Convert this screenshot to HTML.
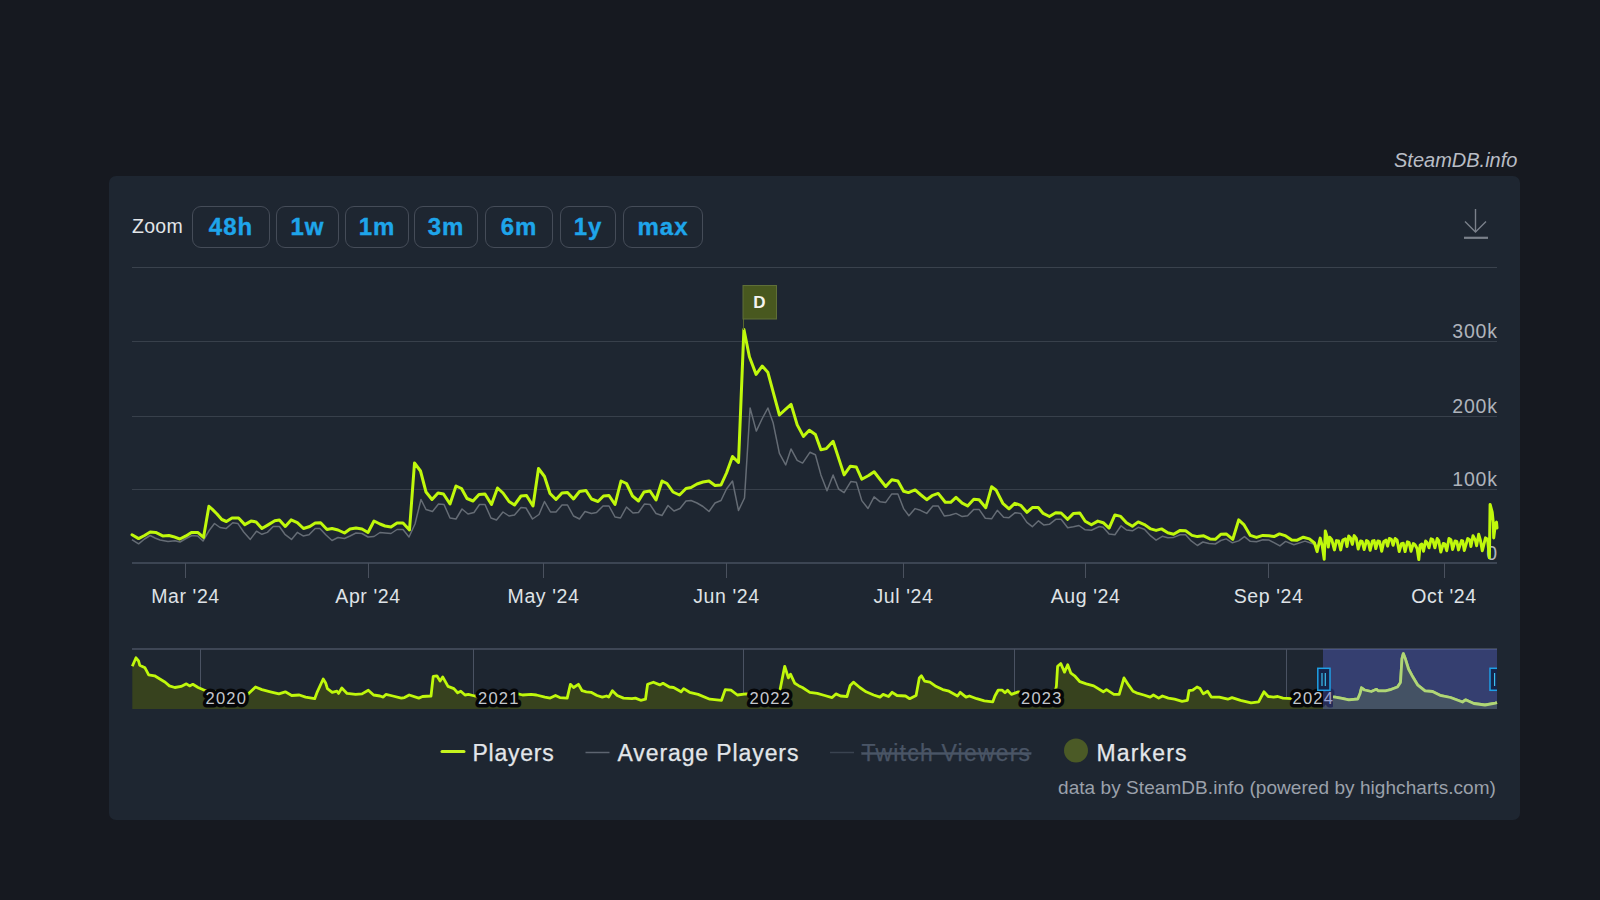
<!DOCTYPE html>
<html><head><meta charset="utf-8">
<style>
*{margin:0;padding:0;box-sizing:border-box}
html,body{width:1600px;height:900px;overflow:hidden;background:#161920;font-family:"Liberation Sans",sans-serif}
.brand{position:absolute;left:1394px;top:149px;font-size:20px;font-style:italic;color:#b9bdc5;white-space:nowrap}
.card{position:absolute;left:109px;top:175.5px;width:1411px;height:644.5px;background:#1e2631;border-radius:7px}
.zl{position:absolute;left:132px;top:214.5px;font-size:19.5px;letter-spacing:0.3px;color:#e2e5e8;white-space:nowrap}
.btn{position:absolute;top:206px;height:42px;border:1.5px solid #454c58;border-radius:9px;color:#1ea5ea;font-weight:bold;font-size:24px;text-align:center;line-height:39px;letter-spacing:1px;-webkit-text-stroke:0.35px #1ea5ea}
svg{position:absolute;left:0;top:0}
.t{font-family:"Liberation Sans",sans-serif}
</style></head><body>
<div class="brand">SteamDB.info</div>
<div class="card"></div>
<div class="zl">Zoom</div>
<div class="btn" style="left:192px;width:78px">48h</div>
<div class="btn" style="left:276px;width:63px">1w</div>
<div class="btn" style="left:345px;width:64px">1m</div>
<div class="btn" style="left:414px;width:64px">3m</div>
<div class="btn" style="left:485px;width:68px">6m</div>
<div class="btn" style="left:560px;width:56px">1y</div>
<div class="btn" style="left:623px;width:80px">max</div>
<svg width="1600" height="900" viewBox="0 0 1600 900">
 <defs><clipPath id="navclip"><rect x="1300" y="640" width="197" height="80"/></clipPath><clipPath id="maskclip"><rect x="1333" y="649" width="164" height="60"/></clipPath></defs>
 <!-- download icon -->
 <g stroke="#7a808a" stroke-width="1.4" fill="none">
  <line x1="1475.5" y1="209" x2="1475.5" y2="232"/>
  <polyline points="1465,221.5 1475.5,232 1486,221.5"/>
 </g>
 <line x1="1464" y1="237.8" x2="1488" y2="237.8" stroke="#7a808a" stroke-width="2.2"/>
 <!-- top separator -->
 <line x1="132" y1="267.5" x2="1497" y2="267.5" stroke="#3a424d" stroke-width="1.2"/>
 <!-- grid -->
 <g stroke="#38404b" stroke-width="1">
  <line x1="132" y1="341.5" x2="1497" y2="341.5"/>
  <line x1="132" y1="416.5" x2="1497" y2="416.5"/>
  <line x1="132" y1="489.5" x2="1497" y2="489.5"/>
 </g>
 <line x1="132" y1="563" x2="1497" y2="563" stroke="#3c4553" stroke-width="2"/>
 <g stroke="#4a515e" stroke-width="1">
  <line x1="185.5" y1="563" x2="185.5" y2="578"/>
  <line x1="368.5" y1="563" x2="368.5" y2="578"/>
  <line x1="543.5" y1="563" x2="543.5" y2="578"/>
  <line x1="726.5" y1="563" x2="726.5" y2="578"/>
  <line x1="903.5" y1="563" x2="903.5" y2="578"/>
  <line x1="1085.5" y1="563" x2="1085.5" y2="578"/>
  <line x1="1268.5" y1="563" x2="1268.5" y2="578"/>
  <line x1="1444.5" y1="563" x2="1444.5" y2="578"/>
 </g>
 <!-- y labels -->
 <g class="t" font-size="19.5" fill="#aeb3bb" text-anchor="end" letter-spacing="0.8">
  <text x="1497.8" y="337.7">300k</text>
  <text x="1497.8" y="412.7">200k</text>
  <text x="1497.8" y="485.7">100k</text>
  <text x="1497.8" y="559.5">0</text>
 </g>
 <!-- x labels -->
 <g class="t" font-size="19.5" fill="#dfe2e6" text-anchor="middle" letter-spacing="0.6">
  <text x="185.5" y="603">Mar '24</text>
  <text x="368" y="603">Apr '24</text>
  <text x="543.5" y="603">May '24</text>
  <text x="726.5" y="603">Jun '24</text>
  <text x="903.5" y="603">Jul '24</text>
  <text x="1085.5" y="603">Aug '24</text>
  <text x="1268.5" y="603">Sep '24</text>
  <text x="1444" y="603">Oct '24</text>
 </g>
 <!-- lines -->
 <polyline points="131.9,539.6 138.6,543.8 144.5,539 150.2,535.5 155,538 160,540 168,541.5 175,540.7 180,542 186,538.5 192,535.5 197.7,536 203,541 209.5,530 214.5,523.5 220,527.5 226,528.6 232.8,522.7 237.8,523.4 243.7,532 250.3,539.4 256.5,531.2 261.9,534.3 267.4,532.4 273.2,526.5 279.4,526.5 284.9,534.3 291.5,539.4 297.3,532.4 303.1,535.9 309,534.7 315.2,528.5 319.9,528.5 326,535 332,540.5 338,537.5 344.5,538.5 350,536 356,533 362,533.5 368,537 374,536.5 380,532.5 385,533 391,533.5 397,529.5 403,529.5 409,537 415,524 421,499.5 426,509.5 432.5,511.5 438.5,504 444,504.5 450,518 456,519 462,509 468,514 474,512.5 479.5,504.5 485,504.5 491,518 496.5,520 503,512 509,516 514.5,515 521,507.5 526,508 532.5,519 539,514.5 544.5,501.5 550.5,512 556,512 562,505 567.5,505 573.5,516 579.5,519 585,511.5 591.5,513.5 596.5,512.5 603,506 609,506 615,517 620.5,518 626.5,507 633,513 638.5,512.5 644.5,504 650,504.5 656,513.5 662,515.5 668,505.5 674,511 680,508.5 686,501 691,500.5 697,503 703,506.5 709,511.5 715,503 721,500.5 726.5,489 732.5,481 738.5,510.5 744.5,498 750.1,408 756.3,431.1 762,419 767.9,408 773.2,423.1 779.4,453.3 785.7,464.9 791,448.9 797.2,460.4 802.6,463.1 809.9,452.3 815.4,454.7 820.9,474.9 827,490.8 833.1,474.9 838.6,489 844.1,492.6 850.8,481.6 856.3,482.2 861.8,500.6 868,508.5 874.1,496.9 880.2,501.8 885.7,502.4 891.8,493.9 897.9,493.9 903.6,508.6 908.9,515.7 915.1,508.6 920.4,510.3 926.7,513.4 932.9,505.9 938.2,505.9 944.4,516.1 949.8,515.2 956,513.4 962.2,516.6 967.6,515.7 973.8,509.4 979.1,509.4 985.3,518.3 991.6,518.8 997.3,510.3 1003.6,517.3 1009,517.7 1015.2,512.7 1020.7,513.4 1026.9,522.4 1032.3,526.7 1038.5,520.8 1044,525.1 1049.4,524.3 1055.7,519.3 1061.1,519.3 1067.7,527.8 1073.5,526.7 1079,525.5 1085.2,529.8 1091.4,530.2 1099.3,526.5 1103.2,527.3 1109.1,533.9 1114.9,534.7 1121.1,525.8 1126.5,530 1132.4,530.8 1138.2,527.3 1144.4,529.3 1150.7,535.9 1156.1,540.2 1162.3,536.3 1167.8,537.8 1173.6,537.4 1180.2,534.7 1185.6,534.7 1191.2,540.9 1197.4,545.5 1202.9,542 1209.1,543.6 1215.3,544 1220.8,540.5 1226.2,538.9 1232.4,542.8 1238.7,540.9 1244.5,536.6 1250.3,541.3 1256.5,541.7 1262.8,539.7 1269,540.1 1274.4,542.8 1279.9,545.9 1285.6,541.4 1293.9,544.7 1305,541.1 1312,543.5 1318,546" fill="none" stroke="#656c75" stroke-width="1.5" stroke-linejoin="round"/>
 <polyline points="132,534.7 138.6,538.6 144.5,535.5 150.2,532 155.7,532.4 162.7,535.9 168.9,535.5 173.5,536.7 179.8,539 186,535.9 191.4,532.4 197.7,532.4 203.5,537.4 208.9,506.3 212.4,509.4 217,514 221.8,519.5 226.4,521.5 232,518 238.6,518 244.8,524.6 251,521.1 256.1,521.9 261.9,528.5 268.5,524.6 274.8,520.7 279.4,519.9 285.3,526.5 291.1,519.9 297.3,522.7 303.5,528.5 309.8,526.5 315.2,523 320.6,522.7 327,529.5 332,528.5 338,530 344.5,533 350,529 356,528 362,529 368,532.5 374,521 380,524 385,526 391,527 397,523 403,523 409.5,530 414.5,463 420.5,471 426,492 432,499.5 438,493 443.5,494 450,504 456,486 461.5,488.5 467,498.5 473,501 479,494.5 485,494 491.5,504.5 497.5,488 503,493 509,501.5 514.5,505 521,496 526.5,495.5 533,506 538.5,468.5 544.5,476.5 550,493.5 556,499.5 562,493 567.5,492.5 573.5,499 579.5,491.5 586,490.5 591.5,499 598,501.5 603.5,496 609,495.5 615,504.5 621,481 626.5,483.5 632.5,496 638.5,501 644,492 650,491 656,500 662,481 667,483.5 673,492 679.5,495 686,488.5 691,487.5 697,484 703,482 709,481 715,485.5 721,485 726.5,473 732.5,456.5 738.5,462.5 743.9,329.4 749.4,356.7 756.1,374.4 762.2,366.1 767.8,372.2 773.6,393.6 779.4,415 785.2,409.7 791.1,404.4 797.2,424.9 803.4,436.4 809.3,430.3 815.4,434.6 820.9,449.8 826.4,448.6 833.1,441.3 838.6,458.1 844.1,474.9 850.2,466.3 856.3,467 861.8,479.2 868.6,475.5 874.1,471.8 879.9,479.2 885.7,486.5 891.8,479.8 897.9,481 903.6,491.2 908.4,492.6 915.1,489.9 921,495 926.7,499.7 932,495.7 938.2,493.4 945.3,502.3 950.7,502.3 956,497.4 962.2,503.2 967.6,505.9 973.8,499.2 979.1,499.7 985.8,507.7 991.6,486.8 996,489.9 1002.8,503.3 1009,508.8 1014.8,503.3 1020.7,505.3 1026.9,512.3 1032.3,507.6 1038.2,507.6 1043.2,513.4 1049.4,516.5 1055.7,512.7 1061.1,513 1067.7,519.3 1073.5,513.4 1079.8,513 1085.2,521.2 1091.4,524.7 1097.8,521.1 1103.2,522.7 1109.1,528.1 1114.9,514.9 1120.7,516.4 1126.5,522.7 1132.4,526.2 1138.2,521.9 1144.4,524.6 1150.7,528.9 1156.1,530.4 1161.5,528.9 1167.8,532.8 1173.6,534.3 1180.2,530.4 1185.6,530.8 1192,535.4 1197.4,536.6 1203.7,535.8 1209.9,538.9 1215.3,539.3 1220.8,534.3 1226.2,533.9 1232.8,539.3 1238.7,519.9 1244.1,524.9 1250.3,535.4 1256.5,537.4 1262.8,535.4 1269,535.8 1274,536.6 1279.5,533.9 1285,535.6 1291.7,540 1296.7,540.3 1303.3,537.2 1309.4,538.9 1314.5,543 1317.1,551.6 1320.2,538.1 1322.3,546.1 1324.2,559.2 1325.3,530.9 1326.8,536 1328.3,547 1329.7,537.2 1331.8,539.8 1334.4,549.9 1336.5,540.6 1338.6,541 1340.7,549.9 1342.8,540.2 1345.4,538.9 1347,546.5 1348.7,536 1350.4,537.7 1352.3,544.4 1354.2,535.6 1356.3,538.5 1358.2,549.1 1360.6,541 1362.2,541.5 1364.1,549.5 1366.5,540.6 1368.2,541.5 1370.1,550.3 1372.4,541 1374.1,540.6 1375.8,548.6 1377.9,541 1379.6,541.5 1381.7,551.2 1383.8,541.5 1385.9,540.2 1387.6,546.1 1389.3,538.5 1391.4,539.4 1393.1,545.3 1395.2,538.5 1397.1,540.2 1399.2,551.6 1401.5,543.6 1403.2,543.2 1405.1,551.6 1407.4,541.9 1409.1,542.7 1411,551.2 1413.3,543.6 1415,544.8 1417.1,548.6 1418.8,559.6 1420.1,545.3 1421.8,544 1423.5,551.2 1425.6,541 1427,542.5 1429,547.8 1431.1,538.9 1432.8,539.7 1434.9,547.8 1437.2,538.5 1438.7,540.6 1440.8,552 1443.3,543.5 1444.8,544 1446.7,550.7 1449,538.5 1450.9,539.7 1452.6,549.4 1455.1,541 1456.8,541.4 1458.5,549.9 1461.5,540.6 1462.7,541 1464.3,550.4 1467.7,538.6 1469.8,540 1470.9,546.4 1473,535.7 1475.5,540.7 1476.6,545.7 1478.7,534.3 1480.5,540.7 1482.3,550.7 1485.5,537.9 1487.6,539.3 1489.4,557.8 1490.1,504.4 1492.2,512.2 1493.3,522.9 1493.7,537.9 1495.5,523.6 1496.5,522.2 1497,527.9" fill="none" stroke="#c0f80c" stroke-width="3" stroke-linejoin="round" stroke-linecap="round"/>
 <!-- marker D -->
 <line x1="743.5" y1="318" x2="743.5" y2="330" stroke="#58662e" stroke-width="1"/>
 <rect x="743" y="285.5" width="33.5" height="33.5" fill="#48581f" stroke="#5f6f38" stroke-width="1"/>
 <text class="t" x="759.3" y="308.2" font-size="17" font-weight="bold" fill="#f4f4f0" text-anchor="middle">D</text>
 <!-- navigator -->
 <g stroke="#4a5262" stroke-width="1">
  <line x1="200.5" y1="649" x2="200.5" y2="709"/>
  <line x1="473.5" y1="649" x2="473.5" y2="709"/>
  <line x1="743.5" y1="649" x2="743.5" y2="709"/>
  <line x1="1014.5" y1="649" x2="1014.5" y2="709"/>
  <line x1="1286.5" y1="649" x2="1286.5" y2="709"/>
 </g>
 <polygon points="132.3,666.3 136,657.8 138.6,661 139.7,665.2 145,667.8 148.7,674.8 154.6,675.8 159.9,679 165.2,682.2 169.4,685.9 174.8,687.5 181.1,686.4 186.4,683.8 189.6,685.9 192.8,684.3 198.1,687.5 205.6,690.7 226,692.5 248.1,693.9 255.5,687 261.9,689.6 270.4,691.8 278.9,693.9 285.3,691.8 291.7,695.5 299.3,695 305.6,697.1 314.7,698.7 317.3,691.8 323.2,679 325.8,683.3 327.4,688.6 332.2,692.3 337,691.2 338.6,693.4 341.8,688 347.1,693.4 355.6,694.4 362,693.9 368.3,690.2 373.6,695 380,696 383.2,697.1 385.9,694.4 392.8,696 401.3,698.1 404.5,697.6 409.2,695 418.8,698.1 422.5,696.5 431,696 433.2,676.3 436.9,675.8 440.1,681.1 442.7,676.9 448,686.4 453.9,688.6 457.6,692.8 460.8,691.2 465,695 468.4,694.4 474.8,696 495,696 516.2,693.4 522.6,695 531.1,694.4 536.4,695 544.9,697.1 550.2,698.1 555.5,695.5 559.8,697.6 567.2,698.1 570.4,684.3 573.6,687.5 578.4,684.3 582.1,690.7 586.3,691.8 591.1,692.3 597,695.5 602.3,697.1 606.5,696 608.7,697.1 612.4,690.7 617.2,695.5 623.5,698.1 632,698.7 635.4,698.1 640.7,700.3 645.5,699.2 647.6,684.3 653.4,682.2 659.8,684.9 663,683.3 669.4,687 673.6,687.5 681.1,691.8 683.7,688.6 689.6,692.3 698.1,694.4 709.8,699.2 721.5,700.3 725.2,689.6 731,690.2 737.4,695 745.9,693.9 762,695 779.6,692 784.7,666.3 788.4,677.9 790.5,674.2 794.8,683.3 799,685.9 802.4,687.5 809.8,692.3 817.3,693.4 824.7,695.5 832.1,697.6 835.9,693.9 840.6,696 847,696.5 850.2,685.4 853.4,682.2 859.8,687.5 866.1,691.8 873.6,695 880,697.1 883.1,694.4 888.5,696.5 892.2,692.3 897,695.5 905.5,696 909.7,698.7 916.1,695.5 919.3,678 921.4,675.8 924.6,681.1 929.9,682.2 935.2,685.9 942.7,689.6 949,691.2 957.5,696 960.2,692.3 966,697.1 969.4,696 976.8,698.7 984.3,700.8 992.8,701.9 994.9,696 998.1,690.2 1002.3,690.2 1005,692.8 1007.6,690.2 1011.4,694.4 1018.3,691.8 1036,695 1055,693 1056.4,686 1057.6,666.3 1060.8,663.6 1064.5,672.1 1067.7,664.7 1070.9,673.2 1074.6,675.8 1079.9,681.7 1086.3,683.8 1093.7,685.9 1103.3,691.8 1106.5,689.6 1113.9,694.4 1119.2,694.4 1124,677.9 1128.8,685.4 1133,691.2 1136.4,692.8 1143.8,695 1150.2,697.1 1153.4,695 1158.7,698.1 1162.4,696 1168.3,698.1 1174.6,699.2 1182.1,701.3 1187.4,700.3 1189,690.7 1192.7,690.2 1197,687 1200.1,688.6 1203.3,693.9 1207.6,691.2 1211.3,697.1 1219.3,697.1 1227.8,699.2 1232,697.6 1240.5,700.3 1251.1,702.9 1258.6,701.9 1263.9,691.8 1268.2,696.5 1273.5,697.1 1277.7,696.5 1283,698.1 1291.8,698.6 1312,698 1333.8,696.8 1342,698.3 1348.8,699.8 1357.8,699 1360,693.8 1361.5,687.8 1364.5,690 1371.3,691.5 1376.5,689.3 1378,690.8 1385.5,690.8 1391.5,689.3 1397.5,687 1400.5,682.5 1402,658.5 1403.3,653.6 1405.5,659.3 1408.5,669 1413,677.3 1417.5,684.8 1425,690.8 1432.5,691.5 1440,695.3 1450.5,697.5 1462.5,702 1465.5,699.8 1473.8,703.5 1485,705 1495.5,703.1 1497,702.5 1497,709 132.3,709" fill="#37421e"/>
 <polyline points="132.3,666.3 136,657.8 138.6,661 139.7,665.2 145,667.8 148.7,674.8 154.6,675.8 159.9,679 165.2,682.2 169.4,685.9 174.8,687.5 181.1,686.4 186.4,683.8 189.6,685.9 192.8,684.3 198.1,687.5 205.6,690.7 226,692.5 248.1,693.9 255.5,687 261.9,689.6 270.4,691.8 278.9,693.9 285.3,691.8 291.7,695.5 299.3,695 305.6,697.1 314.7,698.7 317.3,691.8 323.2,679 325.8,683.3 327.4,688.6 332.2,692.3 337,691.2 338.6,693.4 341.8,688 347.1,693.4 355.6,694.4 362,693.9 368.3,690.2 373.6,695 380,696 383.2,697.1 385.9,694.4 392.8,696 401.3,698.1 404.5,697.6 409.2,695 418.8,698.1 422.5,696.5 431,696 433.2,676.3 436.9,675.8 440.1,681.1 442.7,676.9 448,686.4 453.9,688.6 457.6,692.8 460.8,691.2 465,695 468.4,694.4 474.8,696 495,696 516.2,693.4 522.6,695 531.1,694.4 536.4,695 544.9,697.1 550.2,698.1 555.5,695.5 559.8,697.6 567.2,698.1 570.4,684.3 573.6,687.5 578.4,684.3 582.1,690.7 586.3,691.8 591.1,692.3 597,695.5 602.3,697.1 606.5,696 608.7,697.1 612.4,690.7 617.2,695.5 623.5,698.1 632,698.7 635.4,698.1 640.7,700.3 645.5,699.2 647.6,684.3 653.4,682.2 659.8,684.9 663,683.3 669.4,687 673.6,687.5 681.1,691.8 683.7,688.6 689.6,692.3 698.1,694.4 709.8,699.2 721.5,700.3 725.2,689.6 731,690.2 737.4,695 745.9,693.9 762,695 779.6,692 784.7,666.3 788.4,677.9 790.5,674.2 794.8,683.3 799,685.9 802.4,687.5 809.8,692.3 817.3,693.4 824.7,695.5 832.1,697.6 835.9,693.9 840.6,696 847,696.5 850.2,685.4 853.4,682.2 859.8,687.5 866.1,691.8 873.6,695 880,697.1 883.1,694.4 888.5,696.5 892.2,692.3 897,695.5 905.5,696 909.7,698.7 916.1,695.5 919.3,678 921.4,675.8 924.6,681.1 929.9,682.2 935.2,685.9 942.7,689.6 949,691.2 957.5,696 960.2,692.3 966,697.1 969.4,696 976.8,698.7 984.3,700.8 992.8,701.9 994.9,696 998.1,690.2 1002.3,690.2 1005,692.8 1007.6,690.2 1011.4,694.4 1018.3,691.8 1036,695 1055,693 1056.4,686 1057.6,666.3 1060.8,663.6 1064.5,672.1 1067.7,664.7 1070.9,673.2 1074.6,675.8 1079.9,681.7 1086.3,683.8 1093.7,685.9 1103.3,691.8 1106.5,689.6 1113.9,694.4 1119.2,694.4 1124,677.9 1128.8,685.4 1133,691.2 1136.4,692.8 1143.8,695 1150.2,697.1 1153.4,695 1158.7,698.1 1162.4,696 1168.3,698.1 1174.6,699.2 1182.1,701.3 1187.4,700.3 1189,690.7 1192.7,690.2 1197,687 1200.1,688.6 1203.3,693.9 1207.6,691.2 1211.3,697.1 1219.3,697.1 1227.8,699.2 1232,697.6 1240.5,700.3 1251.1,702.9 1258.6,701.9 1263.9,691.8 1268.2,696.5 1273.5,697.1 1277.7,696.5 1283,698.1 1291.8,698.6 1312,698 1333.8,696.8 1342,698.3 1348.8,699.8 1357.8,699 1360,693.8 1361.5,687.8 1364.5,690 1371.3,691.5 1376.5,689.3 1378,690.8 1385.5,690.8 1391.5,689.3 1397.5,687 1400.5,682.5 1402,658.5 1403.3,653.6 1405.5,659.3 1408.5,669 1413,677.3 1417.5,684.8 1425,690.8 1432.5,691.5 1440,695.3 1450.5,697.5 1462.5,702 1465.5,699.8 1473.8,703.5 1485,705 1495.5,703.1 1497,702.5" fill="none" stroke="#c0f80c" stroke-width="2.8" stroke-linejoin="round"/>
 <line x1="132" y1="649" x2="1497" y2="649" stroke="#4a5262" stroke-width="1.5"/>
 <g class="t" font-size="16.5" fill="#c4c8ce" letter-spacing="1.2" stroke="#050608" stroke-width="7" stroke-linejoin="round" paint-order="stroke">
  <text x="205.5" y="704">2020</text>
  <text x="478" y="704">2021</text>
  <text x="749.5" y="704">2022</text>
  <text x="1021" y="704">2023</text>
  <text x="1292.5" y="704">2024</text>
 </g>
 <rect x="1323" y="649" width="174" height="60" fill="rgba(88,103,208,0.40)"/>
 <g clip-path="url(#maskclip)">
  <polygon points="132.3,666.3 136,657.8 138.6,661 139.7,665.2 145,667.8 148.7,674.8 154.6,675.8 159.9,679 165.2,682.2 169.4,685.9 174.8,687.5 181.1,686.4 186.4,683.8 189.6,685.9 192.8,684.3 198.1,687.5 205.6,690.7 226,692.5 248.1,693.9 255.5,687 261.9,689.6 270.4,691.8 278.9,693.9 285.3,691.8 291.7,695.5 299.3,695 305.6,697.1 314.7,698.7 317.3,691.8 323.2,679 325.8,683.3 327.4,688.6 332.2,692.3 337,691.2 338.6,693.4 341.8,688 347.1,693.4 355.6,694.4 362,693.9 368.3,690.2 373.6,695 380,696 383.2,697.1 385.9,694.4 392.8,696 401.3,698.1 404.5,697.6 409.2,695 418.8,698.1 422.5,696.5 431,696 433.2,676.3 436.9,675.8 440.1,681.1 442.7,676.9 448,686.4 453.9,688.6 457.6,692.8 460.8,691.2 465,695 468.4,694.4 474.8,696 495,696 516.2,693.4 522.6,695 531.1,694.4 536.4,695 544.9,697.1 550.2,698.1 555.5,695.5 559.8,697.6 567.2,698.1 570.4,684.3 573.6,687.5 578.4,684.3 582.1,690.7 586.3,691.8 591.1,692.3 597,695.5 602.3,697.1 606.5,696 608.7,697.1 612.4,690.7 617.2,695.5 623.5,698.1 632,698.7 635.4,698.1 640.7,700.3 645.5,699.2 647.6,684.3 653.4,682.2 659.8,684.9 663,683.3 669.4,687 673.6,687.5 681.1,691.8 683.7,688.6 689.6,692.3 698.1,694.4 709.8,699.2 721.5,700.3 725.2,689.6 731,690.2 737.4,695 745.9,693.9 762,695 779.6,692 784.7,666.3 788.4,677.9 790.5,674.2 794.8,683.3 799,685.9 802.4,687.5 809.8,692.3 817.3,693.4 824.7,695.5 832.1,697.6 835.9,693.9 840.6,696 847,696.5 850.2,685.4 853.4,682.2 859.8,687.5 866.1,691.8 873.6,695 880,697.1 883.1,694.4 888.5,696.5 892.2,692.3 897,695.5 905.5,696 909.7,698.7 916.1,695.5 919.3,678 921.4,675.8 924.6,681.1 929.9,682.2 935.2,685.9 942.7,689.6 949,691.2 957.5,696 960.2,692.3 966,697.1 969.4,696 976.8,698.7 984.3,700.8 992.8,701.9 994.9,696 998.1,690.2 1002.3,690.2 1005,692.8 1007.6,690.2 1011.4,694.4 1018.3,691.8 1036,695 1055,693 1056.4,686 1057.6,666.3 1060.8,663.6 1064.5,672.1 1067.7,664.7 1070.9,673.2 1074.6,675.8 1079.9,681.7 1086.3,683.8 1093.7,685.9 1103.3,691.8 1106.5,689.6 1113.9,694.4 1119.2,694.4 1124,677.9 1128.8,685.4 1133,691.2 1136.4,692.8 1143.8,695 1150.2,697.1 1153.4,695 1158.7,698.1 1162.4,696 1168.3,698.1 1174.6,699.2 1182.1,701.3 1187.4,700.3 1189,690.7 1192.7,690.2 1197,687 1200.1,688.6 1203.3,693.9 1207.6,691.2 1211.3,697.1 1219.3,697.1 1227.8,699.2 1232,697.6 1240.5,700.3 1251.1,702.9 1258.6,701.9 1263.9,691.8 1268.2,696.5 1273.5,697.1 1277.7,696.5 1283,698.1 1291.8,698.6 1312,698 1333.8,696.8 1342,698.3 1348.8,699.8 1357.8,699 1360,693.8 1361.5,687.8 1364.5,690 1371.3,691.5 1376.5,689.3 1378,690.8 1385.5,690.8 1391.5,689.3 1397.5,687 1400.5,682.5 1402,658.5 1403.3,653.6 1405.5,659.3 1408.5,669 1413,677.3 1417.5,684.8 1425,690.8 1432.5,691.5 1440,695.3 1450.5,697.5 1462.5,702 1465.5,699.8 1473.8,703.5 1485,705 1495.5,703.1 1497,702.5 1497,709 132.3,709" fill="#445264"/>
  <polyline points="132.3,666.3 136,657.8 138.6,661 139.7,665.2 145,667.8 148.7,674.8 154.6,675.8 159.9,679 165.2,682.2 169.4,685.9 174.8,687.5 181.1,686.4 186.4,683.8 189.6,685.9 192.8,684.3 198.1,687.5 205.6,690.7 226,692.5 248.1,693.9 255.5,687 261.9,689.6 270.4,691.8 278.9,693.9 285.3,691.8 291.7,695.5 299.3,695 305.6,697.1 314.7,698.7 317.3,691.8 323.2,679 325.8,683.3 327.4,688.6 332.2,692.3 337,691.2 338.6,693.4 341.8,688 347.1,693.4 355.6,694.4 362,693.9 368.3,690.2 373.6,695 380,696 383.2,697.1 385.9,694.4 392.8,696 401.3,698.1 404.5,697.6 409.2,695 418.8,698.1 422.5,696.5 431,696 433.2,676.3 436.9,675.8 440.1,681.1 442.7,676.9 448,686.4 453.9,688.6 457.6,692.8 460.8,691.2 465,695 468.4,694.4 474.8,696 495,696 516.2,693.4 522.6,695 531.1,694.4 536.4,695 544.9,697.1 550.2,698.1 555.5,695.5 559.8,697.6 567.2,698.1 570.4,684.3 573.6,687.5 578.4,684.3 582.1,690.7 586.3,691.8 591.1,692.3 597,695.5 602.3,697.1 606.5,696 608.7,697.1 612.4,690.7 617.2,695.5 623.5,698.1 632,698.7 635.4,698.1 640.7,700.3 645.5,699.2 647.6,684.3 653.4,682.2 659.8,684.9 663,683.3 669.4,687 673.6,687.5 681.1,691.8 683.7,688.6 689.6,692.3 698.1,694.4 709.8,699.2 721.5,700.3 725.2,689.6 731,690.2 737.4,695 745.9,693.9 762,695 779.6,692 784.7,666.3 788.4,677.9 790.5,674.2 794.8,683.3 799,685.9 802.4,687.5 809.8,692.3 817.3,693.4 824.7,695.5 832.1,697.6 835.9,693.9 840.6,696 847,696.5 850.2,685.4 853.4,682.2 859.8,687.5 866.1,691.8 873.6,695 880,697.1 883.1,694.4 888.5,696.5 892.2,692.3 897,695.5 905.5,696 909.7,698.7 916.1,695.5 919.3,678 921.4,675.8 924.6,681.1 929.9,682.2 935.2,685.9 942.7,689.6 949,691.2 957.5,696 960.2,692.3 966,697.1 969.4,696 976.8,698.7 984.3,700.8 992.8,701.9 994.9,696 998.1,690.2 1002.3,690.2 1005,692.8 1007.6,690.2 1011.4,694.4 1018.3,691.8 1036,695 1055,693 1056.4,686 1057.6,666.3 1060.8,663.6 1064.5,672.1 1067.7,664.7 1070.9,673.2 1074.6,675.8 1079.9,681.7 1086.3,683.8 1093.7,685.9 1103.3,691.8 1106.5,689.6 1113.9,694.4 1119.2,694.4 1124,677.9 1128.8,685.4 1133,691.2 1136.4,692.8 1143.8,695 1150.2,697.1 1153.4,695 1158.7,698.1 1162.4,696 1168.3,698.1 1174.6,699.2 1182.1,701.3 1187.4,700.3 1189,690.7 1192.7,690.2 1197,687 1200.1,688.6 1203.3,693.9 1207.6,691.2 1211.3,697.1 1219.3,697.1 1227.8,699.2 1232,697.6 1240.5,700.3 1251.1,702.9 1258.6,701.9 1263.9,691.8 1268.2,696.5 1273.5,697.1 1277.7,696.5 1283,698.1 1291.8,698.6 1312,698 1333.8,696.8 1342,698.3 1348.8,699.8 1357.8,699 1360,693.8 1361.5,687.8 1364.5,690 1371.3,691.5 1376.5,689.3 1378,690.8 1385.5,690.8 1391.5,689.3 1397.5,687 1400.5,682.5 1402,658.5 1403.3,653.6 1405.5,659.3 1408.5,669 1413,677.3 1417.5,684.8 1425,690.8 1432.5,691.5 1440,695.3 1450.5,697.5 1462.5,702 1465.5,699.8 1473.8,703.5 1485,705 1495.5,703.1 1497,702.5" fill="none" stroke="#b0d676" stroke-width="2.8" stroke-linejoin="round"/>
 </g>
 <!-- handles -->
 <rect x="1317.8" y="668.3" width="12.2" height="22" fill="#15244a" stroke="#1ea0e6" stroke-width="1.5"/>
 <line x1="1322" y1="673" x2="1322" y2="686" stroke="#3cc0f0" stroke-width="1.2"/>
 <line x1="1325.3" y1="673" x2="1325.3" y2="686" stroke="#3cc0f0" stroke-width="1.2"/>
 <g clip-path="url(#navclip)">
 <rect x="1490" y="668.3" width="12" height="22" fill="#15244a" stroke="#1ea0e6" stroke-width="1.5"/>
 <line x1="1494.6" y1="673" x2="1494.6" y2="686" stroke="#3cc0f0" stroke-width="1.2"/>
 </g>
 <!-- legend -->
 <line x1="442" y1="751.5" x2="464" y2="751.5" stroke="#c6f31e" stroke-width="3" stroke-linecap="round"/>
 <line x1="585.5" y1="752.5" x2="609.5" y2="752.5" stroke="#5d6470" stroke-width="1.5"/>
 <line x1="830" y1="752.5" x2="854" y2="752.5" stroke="#3a4350" stroke-width="1.5"/>
 <circle cx="1076" cy="750.5" r="12" fill="#4b5a26"/>
 <g class="t" font-size="23" fill="#e3e6ea" stroke="#e3e6ea" stroke-width="0.25">
  <text x="472.5" y="760.5" letter-spacing="0.75">Players</text>
  <text x="617.5" y="760.5" letter-spacing="0.9">Average Players</text>
  <text x="861.5" y="760.5" letter-spacing="1.2" fill="#4a5566" stroke="#4a5566" text-decoration="line-through">Twitch Viewers</text>
  <text x="1096.5" y="760.5" letter-spacing="1.15">Markers</text>
 </g>
 <text class="t" x="1496" y="793.7" font-size="19" fill="#9ba1ab" text-anchor="end" letter-spacing="0.06">data by SteamDB.info (powered by highcharts.com)</text>
</svg>
</body></html>
